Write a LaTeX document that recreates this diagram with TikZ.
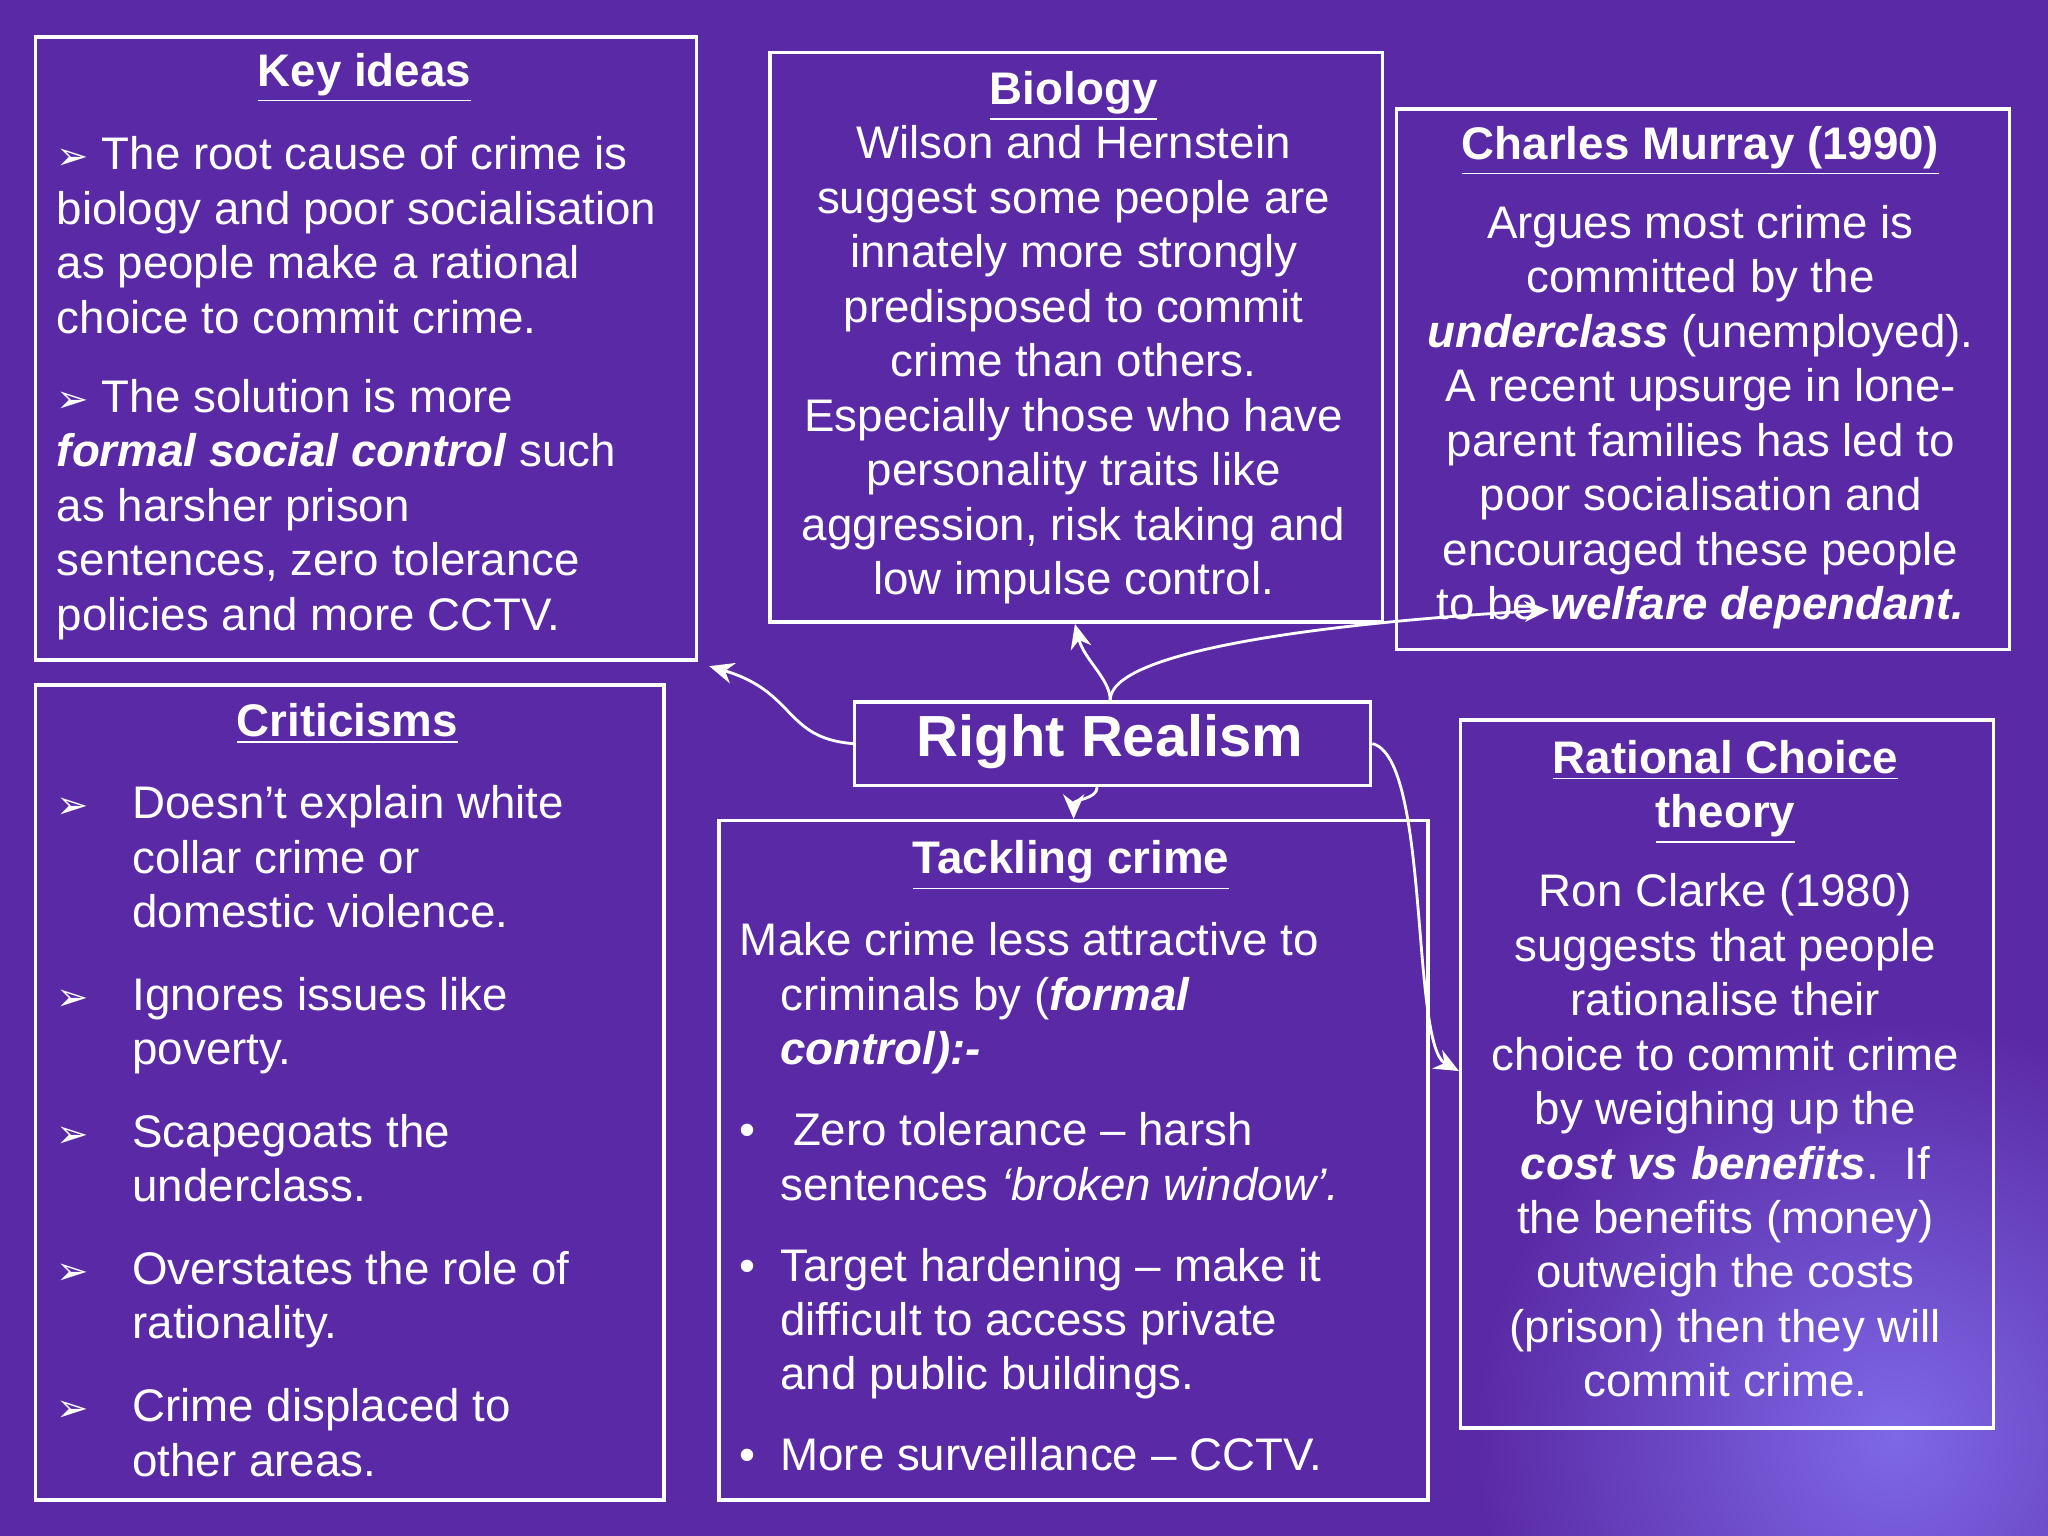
\documentclass[tikz,border=0pt]{standalone}
\usepackage{fontspec}
\setmainfont{Liberation Sans}
\newfontfamily\dv{DejaVu Sans}
\usetikzlibrary{arrows.meta}
\definecolor{bgA}{HTML}{5A2AA6}
\definecolor{bgB}{HTML}{7E68E6}
\newcommand{\ar}{{\dv\fontsize{11}{14}\selectfont ➢}}
\newcommand{\ttl}[1]{\textbf{\underline{#1}}}
\newcommand{\cb}{\makebox[21.5pt][l]{\ar}}
\newcommand{\ci}{\hspace*{21.5pt}}
\newcommand{\tbul}{\makebox[11.5pt][l]{•}}
\newcommand{\ti}{\hspace*{11.5pt}}
\tikzset{
 box/.style={draw=white, line width=1pt, anchor=north west, inner sep=0pt},
 txt/.style={text=white, inner sep=0pt, font=\fontsize{13}{15.5}\selectfont},
 conn/.style={draw=white, line width=0.8pt, -{Stealth[length=7pt,width=6pt]}}
}
\begin{document}
\begin{tikzpicture}[x=0.013061cm,y=-0.013061cm]
\useasboundingbox (0,0) rectangle (1568,1176);
\fill[bgA] (0,0) rectangle (1568,1176);
\begin{scope}
\clip (0,0) rectangle (1568,1176);
\shade[inner color=bgB, outer color=bgA] (1450,1100) circle (320);
\end{scope}
% boxes
\node[box, minimum width=506*0.013061cm, minimum height=477*0.013061cm] (kb) at (26,27) {};
\node[box, minimum width=469*0.013061cm, minimum height=436*0.013061cm] (bb) at (588,39) {};
\node[box, minimum width=469*0.013061cm, minimum height=414*0.013061cm] (mb) at (1068,82) {};
\node[box, minimum width=481*0.013061cm, minimum height=624*0.013061cm] (cb) at (26,523) {};
\node[box, minimum width=395*0.013061cm, minimum height=64*0.013061cm] (rr) at (653,536) {};
\node[box, minimum width=543*0.013061cm, minimum height=520*0.013061cm] (tb) at (549,627) {};
\node[box, minimum width=408*0.013061cm, minimum height=542*0.013061cm] (cc) at (1117,550) {};
% texts
\node[txt, anchor=north] (kt) at (279,40) {\ttl{Key ideas}};
\node[txt, anchor=north west, align=left] (kx) at (43,104) {\ar\ The root cause of crime is\\biology and poor socialisation\\as people make a rational\\choice to commit crime.\\[7pt]\ar\ The solution is more\\\textbf{\textit{formal social control}} such\\as harsher prison\\sentences, zero tolerance\\policies and more CCTV.};
\node[txt, anchor=north, align=center] (bt) at (822,54) {\ttl{Biology}\\Wilson and Hernstein\\suggest some people are\\innately more strongly\\predisposed to commit\\crime than others.\\Especially those who have\\personality traits like\\aggression, risk taking and\\low impulse control.};
\node[txt, anchor=north, align=center] (mt) at (1302,96) {\ttl{Charles Murray (1990)}\\[7pt]Argues most crime is\\committed by the\\\textbf{\textit{underclass}} (unemployed).\\A recent upsurge in lone-\\parent families has led to\\poor socialisation and\\encouraged these people\\to be \textbf{\textit{welfare dependant.}}};
\node[txt, anchor=north] (ct) at (266,538) {\ttl{Criticisms}};
\node[txt, anchor=north west, align=left] (cx) at (43,601) {%
\cb Doesn't explain white\\\ci collar crime or\\\ci domestic violence.\\[8pt]
\cb Ignores issues like\\\ci poverty.\\[8pt]
\cb Scapegoats the\\\ci underclass.\\[8pt]
\cb Overstates the role of\\\ci rationality.\\[8pt]
\cb Crime displaced to\\\ci other areas.};
\node[txt, anchor=center, font=\fontsize{16.5}{20}\selectfont\bfseries] (rt) at (850,568) {Right Realism};
\node[txt, anchor=north] (tt) at (820,643) {\ttl{Tackling crime}};
\node[txt, anchor=north west, align=left] (tx) at (566,706) {%
Make crime less attractive to\\\ti criminals by (\textbf{\textit{formal}}\\\ti \textbf{\textit{control):-}}\\[7.5pt]
\tbul\ Zero tolerance – harsh\\\ti sentences \textit{`broken window'.}\\[7.5pt]
\tbul Target hardening – make it\\\ti difficult to access private\\\ti and public buildings.\\[7.5pt]
\tbul More surveillance – CCTV.};
\node[txt, anchor=north, align=center] (rc) at (1321,566) {\ttl{Rational Choice}\\\ttl{theory}\\[7pt]Ron Clarke (1980)\\suggests that people\\rationalise their\\choice to commit crime\\by weighing up the\\\textbf{\textit{cost vs benefits}}.\ \ If\\the benefits (money)\\outweigh the costs\\(prison) then they will\\commit crime.};
% connectors
\coordinate (kend) at (543,510);
\coordinate (mend) at (1186,467);
\draw[conn] (rr.west) .. controls (600,565) and (610,530) .. (kend);
\draw[conn] (850,536) .. controls (850,520) and (830,505) .. (bb.south -| 823,0);
\draw[conn] (850,536) .. controls (850,500) and (1000,478) .. (mend);
\draw[conn] (rr.south -| 840,0) .. controls (840,612) and (822,612) .. (tb.north -| 822,0);
\draw[conn] (rr.east) .. controls (1095,580) and (1080,800) .. (cc.west |- 0,820);
\end{tikzpicture}
\end{document}
